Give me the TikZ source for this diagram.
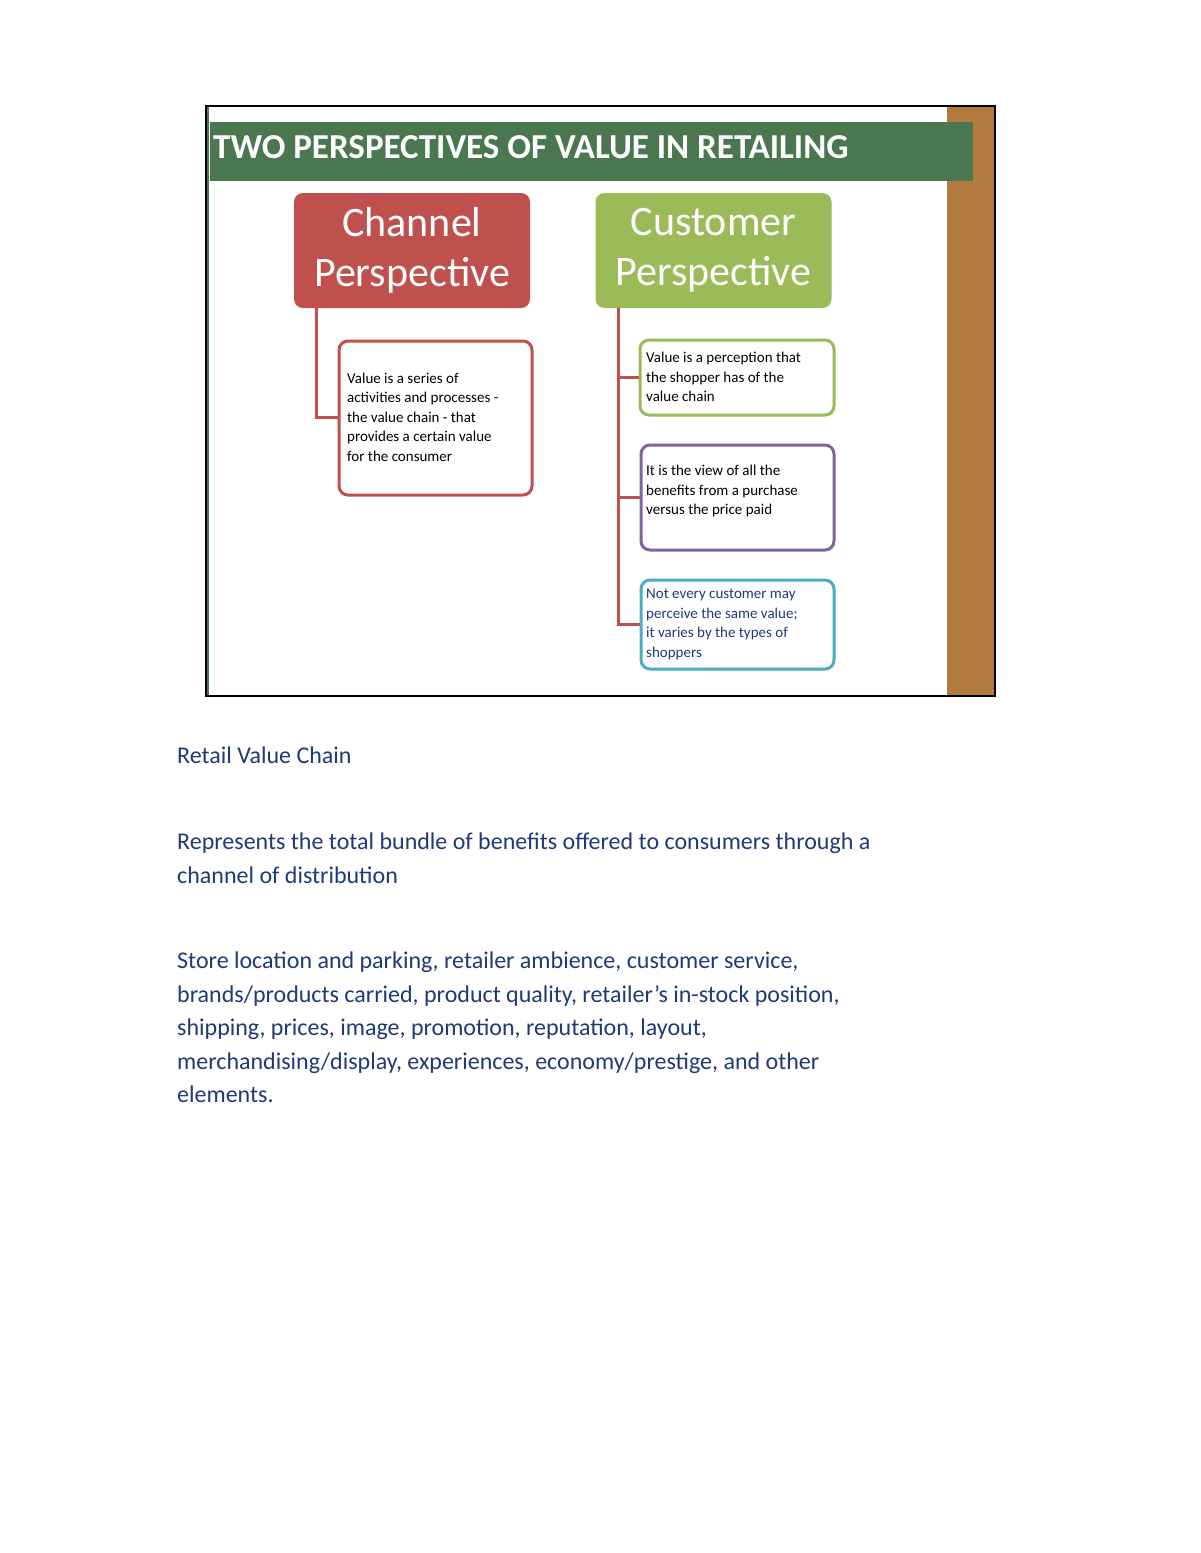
\documentclass[tikz,border=0pt]{standalone}
\usepackage{fontspec}
\setmainfont{Carlito}
\begin{document}
\begin{tikzpicture}[x=1pt,y=-1pt,
  sm/.style={align=left,anchor=west,font=\fontsize{15}{19.5}\selectfont,inner sep=0pt},
  body/.style={anchor=north west,align=left,text=bodyblue,inner sep=0pt,font=\fontsize{24}{33.5}\selectfont},
  ttl/.style={rounded corners=9pt,text=white,align=center,font=\fontsize{42}{50}\selectfont,minimum width=236pt,minimum height=115pt,inner sep=0pt},
  sub/.style={draw,line width=3pt,rounded corners=9pt},
  conn/.style={draw=chred,line width=3pt}]
\definecolor{chred}{HTML}{C0504D}
\definecolor{cugreen}{HTML}{9BBB59}
\definecolor{purp}{HTML}{8064A2}
\definecolor{cyan2}{HTML}{4BACC6}
\definecolor{hdr}{HTML}{4A7650}
\definecolor{brown}{HTML}{B07B3C}
\definecolor{bodyblue}{HTML}{1F3A78}
\useasboundingbox (0,0) rectangle (1200,1553);
\fill[white] (0,0) rectangle (1200,1553);
\fill[brown] (947,107) rectangle (994,695);
\draw[line width=2pt] (206,106) rectangle (995,696);
\draw[hdr,line width=2pt] (208,107) -- (208,695);
\fill[hdr] (210,122) rectangle (973,181);
\node[anchor=west,text=white,font=\bfseries\fontsize{35}{40}\selectfont,inner sep=0pt] (h) at (213,147) {TWO PERSPECTIVES OF VALUE IN RETAILING};
\node[ttl,fill=chred] (ch) at (412,250.5) {Channel\\Perspective};
\node[ttl,fill=cugreen] (cu) at (713.5,250.5) {Customer\\Perspective};
% channel sub
\draw[sub,draw=chred] (339,341) rectangle (532,495);
\node[sm] (c1) at (347,417) {Value is a series of\\activities and processes -\\the value chain - that\\provides a certain value\\for the consumer};
\coordinate (cj) at (339,417);
\draw[conn] (316,308) |- (cj);
% customer subs
\draw[sub,draw=cugreen] (640,340) rectangle (834,415);
\node[sm] (u1) at (646,377) {Value is a perception that\\the shopper has of the\\value chain};
\draw[sub,draw=purp] (641,445) rectangle (834,550);
\node[sm] (u2) at (646,491) {It is the view of all the\\benefits from a purchase\\versus the price paid};
\draw[sub,draw=cyan2] (641,580) rectangle (834,669);
\node[sm,text=bodyblue] (u3) at (646,624.5) {Not every customer may\\perceive the same value;\\it varies by the types of\\shoppers};
\coordinate (a1) at (639,377);
\coordinate (a2) at (640,497);
\coordinate (a3) at (640,624);
\draw[conn] (618,308) -- (618,624) -- (a3);
\draw[conn] (618,377) -- (a1);
\draw[conn] (618,497) -- (a2);
% body
\node[body] (t1) at (177,747) {Retail Value Chain};
\node[body] (t2) at (177,833) {Represents the total bundle of benefits offered to consumers through a\\channel of distribution};
\node[body] (t3) at (177,952) {Store location and parking, retailer ambience, customer service,\\brands/products carried, product quality, retailer’s in-stock position,\\shipping, prices, image, promotion, reputation, layout,\\merchandising/display, experiences, economy/prestige, and other\\elements.};
\end{tikzpicture}
\end{document}
